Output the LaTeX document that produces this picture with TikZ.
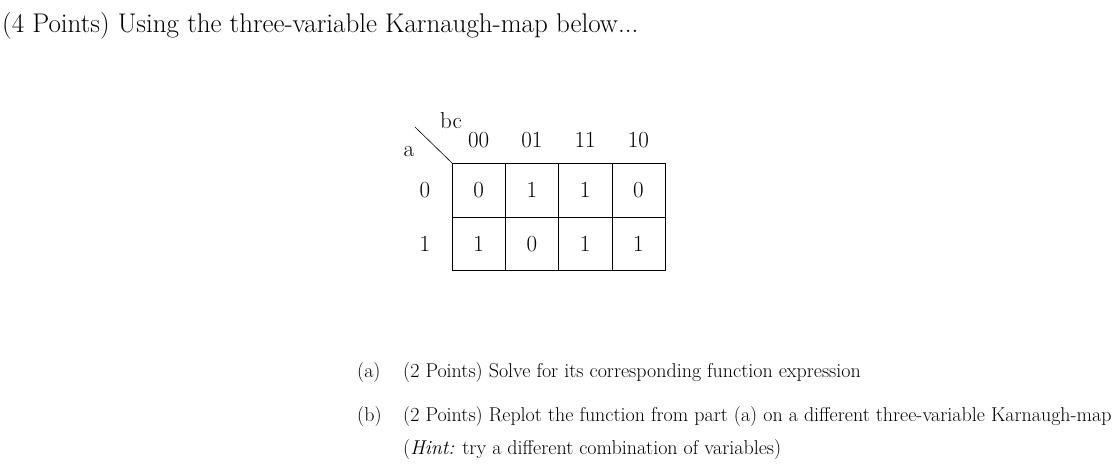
\documentclass[tikz,border=0pt]{standalone}
\begin{document}
\begin{tikzpicture}[x=1pt,y=-1pt,
  txt/.style={inner sep=0pt,anchor=base west,font=\fontsize{20}{25}\selectfont},
  ttl/.style={inner sep=0pt,anchor=base west,font=\fontsize{27}{32}\selectfont},
  cell/.style={inner sep=0pt,font=\fontsize{23}{28}\selectfont}]
\useasboundingbox (0,0) rectangle (1118,472);
\node[ttl] (title) at (2,32) {(4 Points) Using the three-variable Karnaugh-map below...};
% grid
\coordinate (tl) at (452,163);
\coordinate (br) at (665,270);
\coordinate (dg) at (415,127);
\draw[line width=0.8pt] (tl) rectangle (br);
\draw[line width=0.8pt] (452,217) -- (665,217);
\foreach \x in {505,558,612} \draw[line width=0.8pt] (\x,163) -- (\x,270);
\draw[line width=0.6pt] (tl) -- (dg);
\node[cell] (bc) at (451,121) {bc};
\node[cell] (a) at (409,152) {a};
\foreach \v [count=\i] in {00,01,11,10} \node[cell] (h\i) at (452+53.25*\i-26.6,140) {\v};
\node[cell] (r0) at (425,190) {0};
\node[cell] (r1) at (425,244) {1};
\foreach \v [count=\i] in {0,1,1,0} \node[cell] (a\i) at (452+53.25*\i-26.6,190) {\v};
\foreach \v [count=\i] in {1,0,1,1} \node[cell] (b\i) at (452+53.25*\i-26.6,244) {\v};
\node[txt] (pa) at (357,377) {(a)};
\node[txt] (ta) at (403,377) {(2 Points) Solve for its corresponding function expression};
\node[txt] (pb) at (357,421) {(b)};
\node[txt] (tb) at (403,421) {(2 Points) Replot the function from part (a) on a different three-variable Karnaugh-map};
\node[txt] (tc) at (403,454) {(\textit{Hint:} try a different combination of variables)};
\end{tikzpicture}
\end{document}
